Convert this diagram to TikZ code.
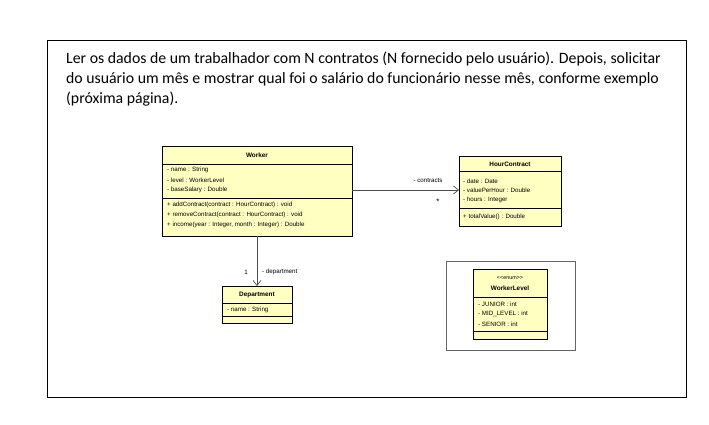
\documentclass[tikz,border=0pt]{standalone}
\usepackage{fontspec}
\setmainfont{Carlito}
\newfontfamily\uml{Liberation Sans}
\begin{document}
\begin{tikzpicture}[x=1pt,y=-1pt,
 box/.style={draw=black,line width=0.9pt,fill=umly},
 t/.style={font=\uml\fontsize{6.2}{7}\selectfont,inner sep=0pt,anchor=west},
 tb/.style={font=\uml\bfseries\fontsize{6.4}{7}\selectfont,inner sep=0pt},
 ar/.style={draw=black!70,line width=0.7pt,->,>={Straight Barb[length=5pt,width=8pt]}}]
\usetikzlibrary{arrows.meta}
\definecolor{umly}{HTML}{FFFFC2}
\useasboundingbox (0,0) rectangle (709,425);
\node[draw=black,line width=0.8pt,minimum width=639pt,minimum height=357pt,anchor=north west,inner sep=0pt] (frame) at (47,40) {};
\node[anchor=north west,align=left,inner sep=0pt,font=\fontsize{15.8}{20}\selectfont] (txt) at (66,52)
{Ler os dados de um trabalhador com N contratos (N fornecido pelo usuário). Depois, solicitar\\
do usuário um mês e mostrar qual foi o salário do funcionário nesse mês, conforme exemplo\\
(próxima página).};
% Worker
\path[box] (162,146) rectangle (352,236);
\draw[line width=0.6pt] (162,164) -- (352,164) (162,198) -- (352,198);
\node[tb] (wt) at (257,155) {Worker};
\node[t] (w1) at (167,170) {- name : String};
\node[t] (w2) at (167,180) {- level : WorkerLevel};
\node[t] (w3) at (167,190) {- baseSalary : Double};
\node[t] (w4) at (167,205) {+ addContract(contract : HourContract) : void};
\node[t] (w5) at (167,215) {+ removeContract(contract : HourContract) : void};
\node[t] (w6) at (167,225) {+ income(year : Integer, month : Integer) : Double};
\coordinate (wr) at (352,190); \coordinate (wb) at (257,236);
% HourContract
\path[box] (459,156) rectangle (561,226);
\draw[line width=0.6pt] (459,171) -- (561,171) (459,208) -- (561,208);
\node[tb] (ht) at (510,164) {HourContract};
\node[t] (h1) at (463,181) {- date : Date};
\node[t] (h2) at (463,190) {- valuePerHour : Double};
\node[t] (h3) at (463,200) {- hours : Integer};
\node[t] (h4) at (463,217) {+ totalValue() : Double};
\coordinate (hl) at (459,190);
% Department
\path[box] (222,286) rectangle (292,323);
\draw[line width=0.6pt] (222,303) -- (292,303) (222,316) -- (292,316);
\node[tb] (dt) at (257,295) {Department};
\node[t] (d1) at (227,310) {- name : String};
\coordinate (dtop) at (257,286);
% WorkerLevel
\node[draw=black!60,line width=0.5pt,minimum width=129pt,minimum height=89pt,anchor=north west,inner sep=0pt] (eframe) at (446,261) {};
\path[box] (473,269) rectangle (547,339);
\draw[line width=0.6pt] (473,297) -- (547,297) (473,331) -- (547,331);
\node[font=\uml\fontsize{5.4}{6}\selectfont,inner sep=0pt] (es) at (510,278) {<{}<enum>{}>};
\node[tb] (en) at (510,288) {WorkerLevel};
\node[t] (e1) at (478,304) {- JUNIOR : int};
\node[t] (e2) at (478,314) {- MID\_LEVEL : int};
\node[t] (e3) at (478,324) {- SENIOR : int};
% connectors
\draw[ar] (wr) -- (hl);
\node[t,anchor=center] (lc) at (428,181) {- contracts};
\node[t,anchor=center,font=\uml\fontsize{8}{8}\selectfont] (ls) at (438,202) {*};
\draw[ar] (wb) -- (dtop);
\node[t,anchor=center] (l1) at (246,272) {1};
\node[t,anchor=west] (ld) at (262,272) {- department};
\end{tikzpicture}
\end{document}
